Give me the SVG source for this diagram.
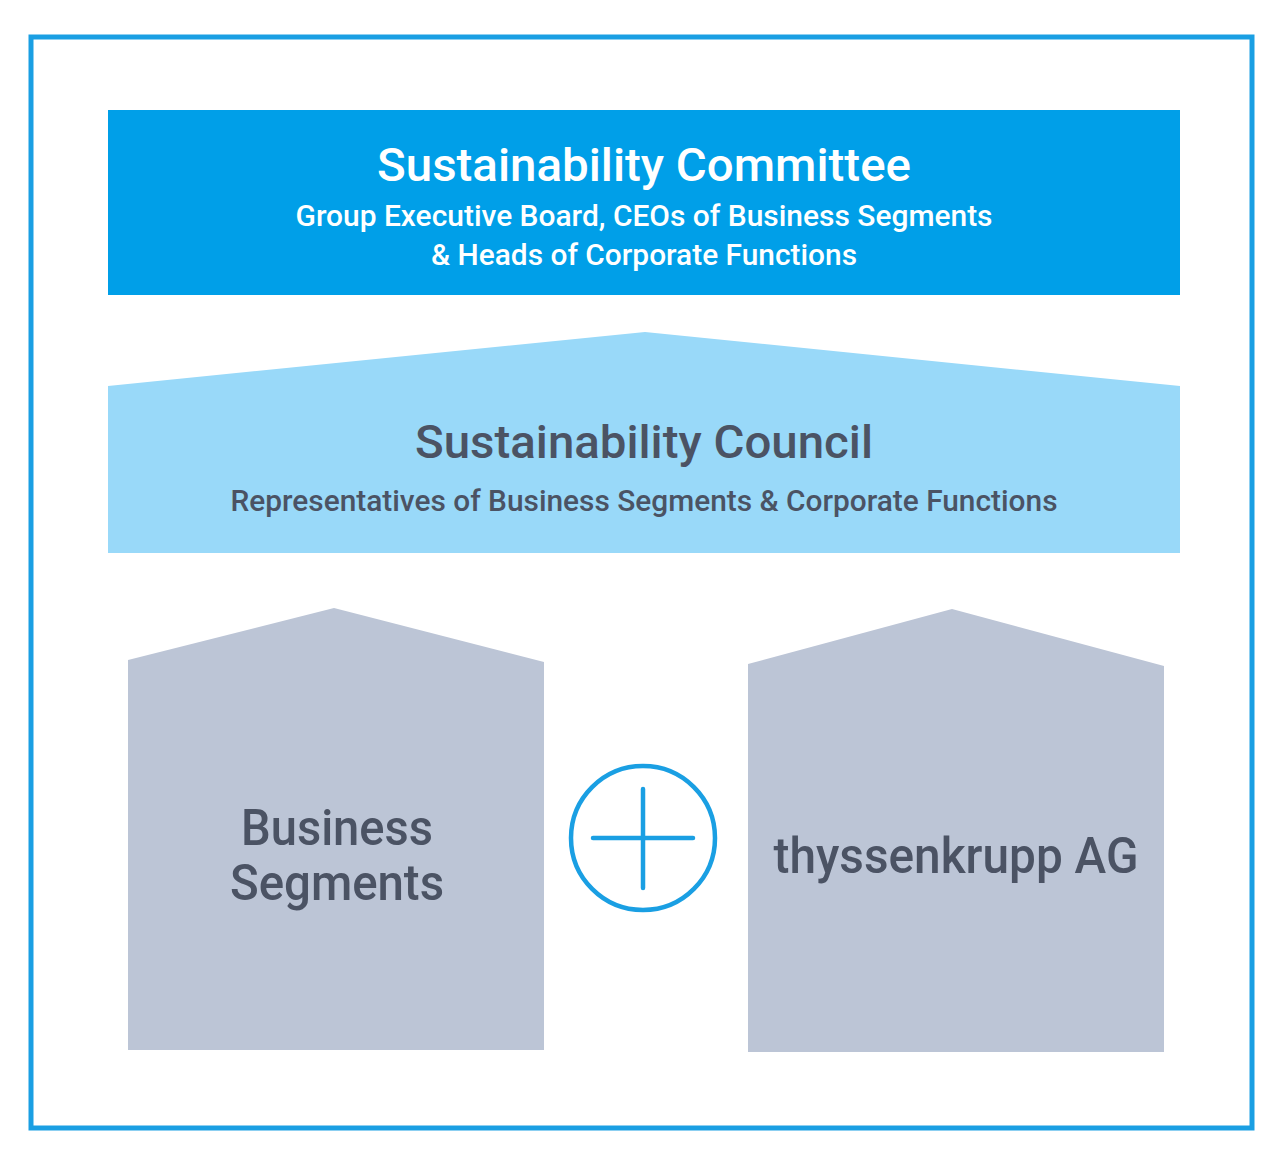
<svg xmlns="http://www.w3.org/2000/svg" width="1280" height="1158" viewBox="0 0 1280 1158">
<style>
  .t { font-family: Roboto, "Liberation Sans", sans-serif; font-weight: 500; text-anchor: middle; }
  .w { fill: #ffffff; }
  .g { fill: #4b5364; }
  .house { fill: #bcc5d6; }
</style>
<rect width="1280" height="1158" fill="#ffffff"/>
<rect id="frame" x="31" y="37" width="1221" height="1091" fill="none" stroke="#1a9fe3" stroke-width="5"/>
<g id="committee">
  <rect x="108" y="110" width="1072" height="185" fill="#009fe8"/>
  <text class="t w" x="644" y="181" font-size="47" textLength="534" lengthAdjust="spacingAndGlyphs">Sustainability Committee</text>
  <text class="t w" x="644" y="226" font-size="29" textLength="697" lengthAdjust="spacingAndGlyphs">Group Executive Board, CEOs of Business Segments</text>
  <text class="t w" x="644" y="265" font-size="29" textLength="426" lengthAdjust="spacingAndGlyphs">&amp; Heads of Corporate Functions</text>
</g>
<g id="council">
  <polygon points="108,386 645,332 1180,386 1180,553 108,553" fill="#99d9f9"/>
  <text class="t g" x="644" y="458" font-size="47" textLength="458" lengthAdjust="spacingAndGlyphs">Sustainability Council</text>
  <text class="t g" x="644" y="511" font-size="29" textLength="827" lengthAdjust="spacingAndGlyphs">Representatives of Business Segments &amp; Corporate Functions</text>
</g>
<g id="business-segments">
  <polygon class="house" points="128,660 334,608 544,662 544,1050 128,1050"/>
  <text class="t g" x="337" y="845" font-size="50" textLength="192" lengthAdjust="spacingAndGlyphs">Business</text>
  <text class="t g" x="337" y="900" font-size="50" textLength="214" lengthAdjust="spacingAndGlyphs">Segments</text>
</g>
<g id="plus">
  <circle cx="643" cy="838" r="72" fill="none" stroke="#1a9fe3" stroke-width="4.5"/>
  <line x1="593" y1="838" x2="693" y2="838" stroke="#1a9fe3" stroke-width="4.5" stroke-linecap="round"/>
  <line x1="643" y1="789" x2="643" y2="888" stroke="#1a9fe3" stroke-width="4.5" stroke-linecap="round"/>
</g>
<g id="thyssenkrupp">
  <polygon class="house" points="748,664 952,609 1164,666 1164,1052 748,1052"/>
  <text class="t g" x="956" y="873" font-size="50" textLength="365" lengthAdjust="spacingAndGlyphs">thyssenkrupp AG</text>
</g>
<g id="connectors"></g>
</svg>
